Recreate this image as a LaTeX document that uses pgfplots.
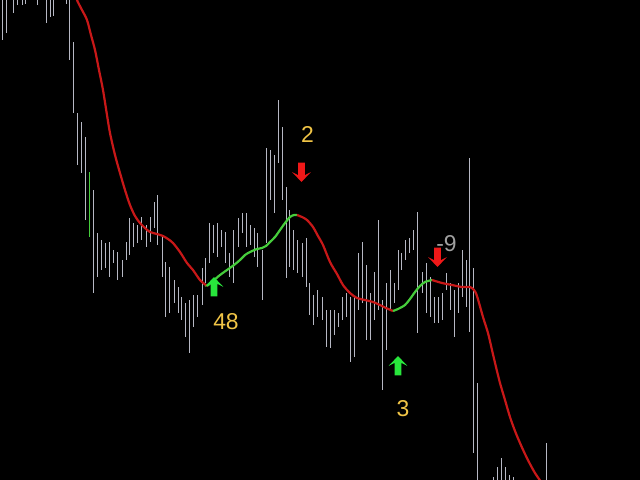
\documentclass[border=0pt]{standalone}
\usepackage{pgfplots}
\pgfplotsset{compat=1.18}
\usepackage{pgfplotstable}
\usepackage{fontspec}
\setmainfont{Liberation Sans}
\definecolor{barcol}{RGB}{182,184,196}
\definecolor{linered}{RGB}{200,24,24}
\definecolor{linegreen}{RGB}{70,205,60}
\definecolor{arrred}{RGB}{240,24,24}
\definecolor{arrgreen}{RGB}{40,230,60}
\definecolor{txtyel}{RGB}{240,196,70}
\definecolor{txtgray}{RGB}{160,160,160}
\pgfdeclareplotmark{uparr}{%
 \pgfpathmoveto{\pgfqpoint{0pt}{10pt}}%
 \pgfpathlineto{\pgfqpoint{9.5pt}{0pt}}%
 \pgfpathlineto{\pgfqpoint{3.4pt}{3.2pt}}%
 \pgfpathlineto{\pgfqpoint{3.4pt}{-9.5pt}}%
 \pgfpathlineto{\pgfqpoint{-3.4pt}{-9.5pt}}%
 \pgfpathlineto{\pgfqpoint{-3.4pt}{3.2pt}}%
 \pgfpathlineto{\pgfqpoint{-9.5pt}{0pt}}%
 \pgfpathclose\pgfusepathqfill}
\pgfdeclareplotmark{dnarr}{%
 \pgfpathmoveto{\pgfqpoint{0pt}{-10pt}}%
 \pgfpathlineto{\pgfqpoint{9.5pt}{0pt}}%
 \pgfpathlineto{\pgfqpoint{3.4pt}{-3.2pt}}%
 \pgfpathlineto{\pgfqpoint{3.4pt}{9.5pt}}%
 \pgfpathlineto{\pgfqpoint{-3.4pt}{9.5pt}}%
 \pgfpathlineto{\pgfqpoint{-3.4pt}{-3.2pt}}%
 \pgfpathlineto{\pgfqpoint{-9.5pt}{0pt}}%
 \pgfpathclose\pgfusepathqfill}
\pgfplotstableread{
x hi lo
2 -5 40
6 -5 33
13 -5 13
17 -5 5
22 -5 5
25 -5 4
37 -5 5
46 -5 23
50 -5 17
53 -5 16
66 -5 4
69 -5 60
73 42 113
77 113 165
81 122 173
85 137 220
93 190 293
97 233 277
101 240 270
105 243 268
109 242 277
113 250 263
117 252 280
122 260 277
126 242 260
129 218 255
133 223 247
137 225 243
141 217 240
146 225 247
150 217 242
154 202 228
157 195 245
162 235 277
165 262 317
169 267 313
174 280 303
178 287 313
181 297 320
185 303 337
189 300 353
193 295 327
197 295 317
202 268 305
205 258 283
209 223 263
213 225 253
217 223 257
221 230 247
225 232 263
229 253 277
233 230 283
238 218 247
242 213 233
246 213 247
250 225 245
254 228 257
257 233 267
262 250 300
266 148 243
270 150 200
274 155 213
278 100 163
282 127 200
286 187 278
289 210 267
293 230 270
297 240 273
302 243 277
306 238 287
309 283 315
313 295 325
317 290 317
322 297 320
326 310 347
330 310 348
334 310 335
338 313 327
342 297 320
346 293 317
350 297 362
354 297 357
358 253 310
362 242 303
366 265 340
370 293 340
374 272 320
378 220 310
382 300 390
386 283 350
390 270 310
394 283 303
398 250 290
401 253 270
405 240 260
409 238 253
413 230 250
417 212 333
422 272 293
426 263 313
430 277 317
434 297 323
438 297 323
442 293 320
446 273 290
450 283 310
454 290 337
458 283 313
462 250 297
466 260 307
469 158 332
473 268 453
477 383 485
493 477 485
497 467 485
501 458 485
505 467 485
509 475 485
513 477 485
546 443 485
}\bars
\pgfplotstableread{
x hi lo
89 172 237
}\gbars
\begin{document}
\begin{tikzpicture}
\useasboundingbox (0,0) rectangle (640bp,480bp);
\fill[black] (0,0) rectangle (640bp,480bp);
\begin{axis}[
  at={(0,0)}, anchor=south west,
  scale only axis, width=640bp, height=480bp,
  xmin=0, xmax=640, ymin=0, ymax=480,
  y dir=reverse,
  hide axis,
  clip=true,
]
\addplot[draw=none, mark=none, forget plot,
  error bars/.cd, y dir=both, y explicit, error mark=none,
  error bar style={draw=barcol, line width=0.9bp}]
  table[x=x, y expr={(\thisrow{hi}+\thisrow{lo})/2}, y error expr={(\thisrow{lo}-\thisrow{hi})/2}] {\bars};
\addplot[draw=none, mark=none, forget plot,
  error bars/.cd, y dir=both, y explicit, error mark=none,
  error bar style={draw=linegreen, line width=0.9bp}]
  table[x=x, y expr={(\thisrow{hi}+\thisrow{lo})/2}, y error expr={(\thisrow{lo}-\thisrow{hi})/2}] {\gbars};
% smoothed line
\addplot[linered, line width=2.2bp, smooth] coordinates {
(77,-5) (77,0) (82,10) (87,20) (91,35) (95,50) (99,70) (103,90) (107,115) (110,133) (115,155)
(120,173) (125,190) (130,205) (135,216) (140,223) (145,228) (150,232) (157,234)
(163,236) (168,239) (173,243) (180,252) (187,263) (193,270) (200,280) (207,286)};
\addplot[linegreen, line width=2.2bp, smooth] coordinates {
(207,286) (213,281) (220,275) (227,270) (234,265) (240,260) (245,255) (250,252)
(257,249) (262,248) (266,246) (270,242) (275,237) (280,230) (285,223) (290,217) (294,215) (297,215)};
\addplot[linered, line width=2.2bp, smooth] coordinates {
(297,215) (302,217) (307,220) (313,227) (318,236) (323,245) (330,262) (337,274)
(343,285) (350,293) (357,298) (365,300) (373,302) (380,305) (386,308) (393,311)};
\addplot[linegreen, line width=2.2bp, smooth] coordinates {
(393,311) (398,309) (405,305) (410,299) (415,292) (420,286) (425,282) (432,280)};
\addplot[linered, line width=2.2bp, smooth] coordinates {
(432,280) (442,283) (452,285) (462,287) (470,287) (474,290) (477,296) (483,317)
(488,333) (492,350) (496,367) (500,383) (505,400) (510,417) (515,431) (520,443)
(525,454) (530,464) (535,473) (541,482) (544,488)};
% arrows
\addplot[only marks, mark=uparr, color=arrgreen] coordinates {(214,287) (398,366)};
\addplot[only marks, mark=dnarr, color=arrred] coordinates {(301.5,172) (437.5,257)};
% labels
\node[text=txtyel, font=\fontsize{23}{26}\selectfont] at (axis cs:226,322) {48};
\node[text=txtyel, font=\fontsize{23}{26}\selectfont] at (axis cs:307.5,134) {2};
\node[text=txtyel, font=\fontsize{23}{26}\selectfont] at (axis cs:403,409) {3};
\node[text=txtgray, font=\fontsize{23}{26}\selectfont] at (axis cs:446.5,244) {-9};
\end{axis}
\end{tikzpicture}
\end{document}
